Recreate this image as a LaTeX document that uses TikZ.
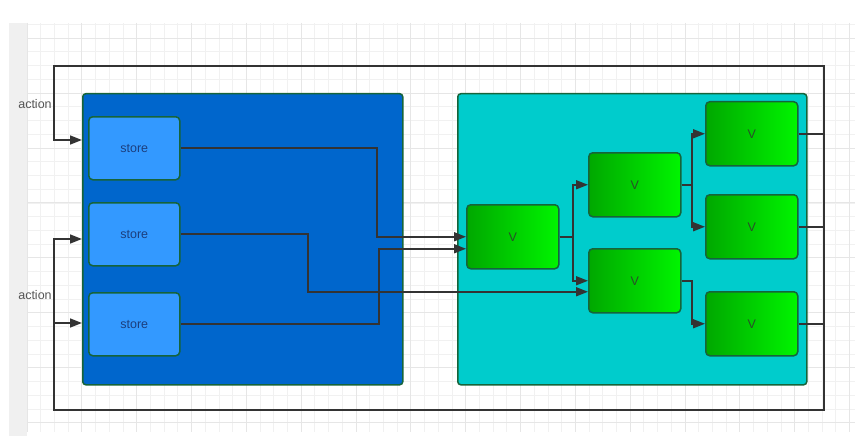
\documentclass[tikz,border=0pt]{standalone}
\usepackage{fontspec}
\setmainfont{Liberation Sans}
\usetikzlibrary{arrows.meta,calc}

\definecolor{groupblue}{RGB}{0,102,204}
\definecolor{storeblue}{RGB}{51,153,255}
\definecolor{groupcyan}{RGB}{0,204,204}
\definecolor{viewdark}{RGB}{0,168,0}
\definecolor{viewlight}{RGB}{0,245,0}
\definecolor{boxline}{RGB}{22,100,58}
\definecolor{storetext}{RGB}{28,62,125}
\definecolor{viewtext}{RGB}{40,80,40}
\definecolor{wirecol}{RGB}{51,51,51}
\definecolor{labelgray}{RGB}{85,85,85}
\definecolor{gridminor}{RGB}{241,241,241}
\definecolor{gridmajor}{RGB}{230,230,230}
\definecolor{stripgray}{RGB}{240,240,240}

\begin{document}
\begin{tikzpicture}[x=1pt,y=-1pt,
  box/.style={draw=boxline,line width=1.5pt,rounded corners=4pt,anchor=north west,
    inner sep=0pt,minimum width=91pt,minimum height=63pt,font=\fontsize{12.5}{14}\selectfont},
  storebox/.style={box,fill=storeblue,text=storetext},
  viewbox/.style={box,left color=viewdark,right color=viewlight,text=viewtext,
    minimum width=92pt,minimum height=64pt},
  group/.style={draw=boxline,line width=1.5pt,rounded corners=3pt,anchor=north west,inner sep=0pt},
  wire/.style={draw=wirecol,line width=1.7pt},
  flow/.style={wire,-{Triangle[length=12pt,width=9pt]}},
  lbl/.style={text=labelgray,font=\fontsize{12.5}{14}\selectfont}]
\useasboundingbox (0,0) rectangle (868,436);

% background grid
\fill[stripgray] (9,23) rectangle (27,436);
\foreach \i in {0,...,60}
  \draw[gridminor,line width=0.8pt] ({27+13.708*\i},23) -- ({27+13.708*\i},432);
\foreach \j in {0,...,29}
  \draw[gridminor,line width=0.8pt] (27,{24.3+13.74*\j}) -- (855,{24.3+13.74*\j});
\foreach \i in {0,...,15}
  \draw[gridmajor,line width=0.8pt] ({27+54.832*\i},23) -- ({27+54.832*\i},432);
\foreach \j in {0,...,7}
  \draw[gridmajor,line width=0.8pt] (27,{38+54.96*\j}) -- (855,{38+54.96*\j});

% groups
\draw (82,93) node[group,fill=groupblue,minimum width=320pt,minimum height=291pt] (stores) {};
\draw (457,93) node[group,fill=groupcyan,minimum width=349pt,minimum height=291pt] (views) {};

% stores
\draw (88,116) node[storebox] (s1) {store};
\draw (88,202) node[storebox] (s2) {store};
\draw (88,292) node[storebox] (s3) {store};

% views
\draw (466,204) node[viewbox] (v0) {V};
\draw (588,152) node[viewbox] (v1) {V};
\draw (588,248) node[viewbox] (v2) {V};
\draw (705,101) node[viewbox] (v3) {V};
\draw (705,194) node[viewbox] (v4) {V};
\draw (705,291) node[viewbox] (v5) {V};

\draw (35,104) node[lbl] (action1) {action};
\draw (35,295) node[lbl] (action2) {action};

% loop around
\coordinate (tl) at (54,66);
\coordinate (tr) at (824,66);
\coordinate (br) at (824,410);
\coordinate (bl) at (54,410);
\coordinate (in1) at (82,140);
\coordinate (in2) at (82,239);
\coordinate (in3) at (82,323);

\draw[flow] (br) -- (tr) -- (tl) |- (in1);
\draw[flow] (tr) -- (br) -- (bl) |- (in2);
\draw[flow] (bl |- in3) -- (in3);

\draw[wire] (v3.east) -- (v3.east -| tr);
\draw[wire] (v4.east) -- (v4.east -| tr);
\draw[wire] (v5.east) -- (v5.east -| tr);

% store -> view
\coordinate (j1) at (377,0);
\coordinate (j2) at (308,0);
\coordinate (j3) at (379,0);
\coordinate (v0in) at ($(v0.west)+(0,12)$);
\coordinate (v2in) at ($(v2.west)+(0,11)$);

\draw[flow] (s1.east) -| (j1 |- v0.west) -- (v0.west);
\draw[flow] (s3.east) -| (j3 |- v0in) -- (v0in);
\draw[flow] (s2.east) -| (j2 |- v2in) -- (v2in);

% view -> view
\coordinate (b0) at (573,0);
\coordinate (b1) at (692,0);

\draw[flow] (v0.east) -| (b0 |- v1.west) -- (v1.west);
\draw[flow] (v0.east) -| (b0 |- v2.west) -- (v2.west);
\draw[flow] (v1.east) -| (b1 |- v3.west) -- (v3.west);
\draw[flow] (v1.east) -| (b1 |- v4.west) -- (v4.west);
\draw[flow] (v2.east) -| (b1 |- v5.west) -- (v5.west);

\end{tikzpicture}
\end{document}
